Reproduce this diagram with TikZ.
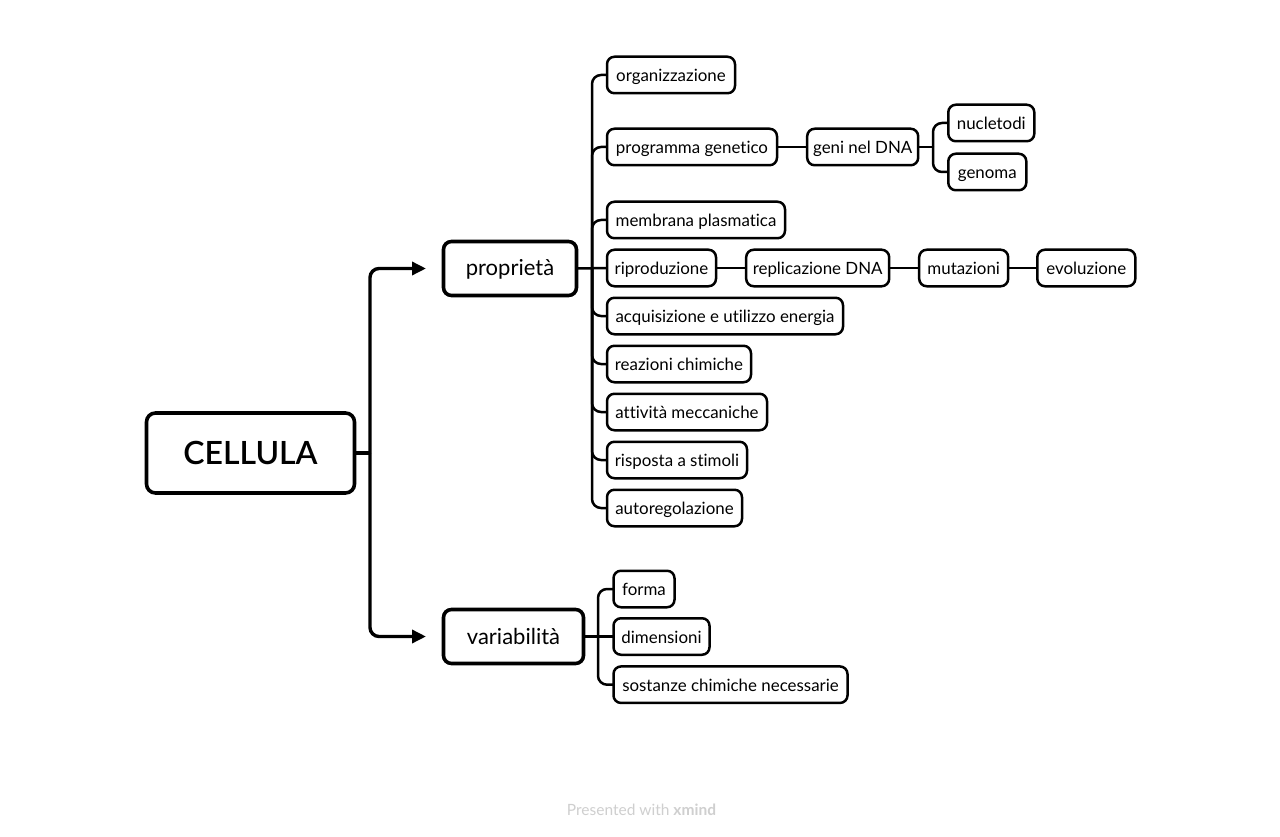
\documentclass[tikz,border=0pt]{standalone}
\usepackage{fontspec}
\setmainfont{Lato}[Ligatures=NoCommon]
\newfontfamily\rootfont{Lato Semibold}[Ligatures=NoCommon]
\usetikzlibrary{arrows.meta}
\definecolor{foot}{HTML}{CFCFCF}
\tikzset{
  x=1pt,y=-1pt,
  basebox/.style={draw=black,fill=white,inner sep=0pt,outer sep=0pt,text=black,anchor=center},
  rootbox/.style={basebox,line width=3.6pt,rounded corners=9pt,font=\fontsize{32}{36}\rootfont,text height=23pt,text depth=0pt},
  mainbox/.style={basebox,line width=3.6pt,rounded corners=8pt,font=\fontsize{22}{26}\selectfont,text height=17pt,text depth=2pt},
  subbox/.style={basebox,line width=2.5pt,rounded corners=7.5pt,font=\fontsize{16.9}{20}\selectfont,minimum height=36.5pt,text height=15pt,text depth=2pt},
  conn/.style={draw=black,line width=2.5pt,rounded corners=9pt},
  bigconn/.style={draw=black,line width=3.4pt,rounded corners=9pt},
  arrowconn/.style={bigconn,-{Triangle[length=14pt,width=13pt]},shorten >=17.5pt},
}
\begin{document}
\begin{tikzpicture}
\useasboundingbox (0,0) rectangle (1280,837);
\fill[white] (0,0) rectangle (1280,837);
\node[rootbox,minimum width=208pt,minimum height=80pt] (root) at (250.5,453) {CELLULA};
\node[mainbox,minimum width=133pt,minimum height=54pt] (prop) at (510,268.5) {proprietà};
\node[mainbox,minimum width=140pt,minimum height=54pt] (vari) at (513.5,636.5) {variabilità};
\node[subbox,minimum width=128pt] (org) at (671,75) {organizzazione};
\node[subbox,minimum width=170pt] (prog) at (692,147) {programma genetico};
\node[subbox,minimum width=111pt] (geni) at (862.7,147) {geni nel DNA};
\node[subbox,minimum width=86pt] (nucl) at (991.3,123) {nucletodi};
\node[subbox,minimum width=78pt] (geno) at (987.3,172) {genoma};
\node[subbox,minimum width=178pt] (memb) at (696,220) {membrana plasmatica};
\node[subbox,minimum width=109pt] (ripr) at (661.5,268) {riproduzione};
\node[subbox,minimum width=143pt] (repl) at (817.7,268) {replicazione DNA};
\node[subbox,minimum width=89pt] (muta) at (963.7,268) {mutazioni};
\node[subbox,minimum width=98pt] (evol) at (1086.3,268) {evoluzione};
\node[subbox,minimum width=236pt] (acqu) at (725,316) {acquisizione e utilizzo energia};
\node[subbox,minimum width=144pt] (reaz) at (679,364) {reazioni chimiche};
\node[subbox,minimum width=160pt] (atti) at (687,412) {attività meccaniche};
\node[subbox,minimum width=140pt] (risp) at (677,460) {risposta a stimoli};
\node[subbox,minimum width=135pt] (auto) at (674.5,508) {autoregolazione};
\node[subbox,minimum width=61pt] (form) at (644,589) {forma};
\node[subbox,minimum width=96pt] (dime) at (661.5,636.5) {dimensioni};
\node[subbox,minimum width=234pt] (sost) at (730.5,684.7) {sostanze chimiche necessarie};
\coordinate (t0) at (370,453);
\coordinate (t1) at (592,268.5);
\coordinate (t2) at (598,636.5);
\coordinate (t3) at (933,147);
\draw[bigconn] (root.east) -- (t0);
\draw[arrowconn] (t0) -- (t0 |- prop.west) -- (prop.west);
\draw[arrowconn] (t0) -- (t0 |- vari.west) -- (vari.west);
\draw[conn] (prop.east) -- (ripr.west);
\foreach \n in {org,prog,memb,acqu,reaz,atti,risp,auto}{
  \draw[conn] (t1) -- (t1 |- \n.west) -- (\n.west);
}
\draw[conn] (vari.east) -- (dime.west);
\foreach \n in {form,sost}{
  \draw[conn] (t2) -- (t2 |- \n.west) -- (\n.west);
}
\draw[conn] (prog.east) -- (geni.west);
\draw[conn] (geni.east) -- (t3);
\foreach \n in {nucl,geno}{
  \draw[conn] (t3) -- (t3 |- \n.west) -- (\n.west);
}
\draw[conn] (ripr.east) -- (repl.west);
\draw[conn] (repl.east) -- (muta.west);
\draw[conn] (muta.east) -- (evol.west);
\node[text=foot,font=\fontsize{15.5}{18}\selectfont,inner sep=0pt] (foot) at (641.5,809.5) {Presented with \textbf{xmind}};
\end{tikzpicture}
\end{document}
